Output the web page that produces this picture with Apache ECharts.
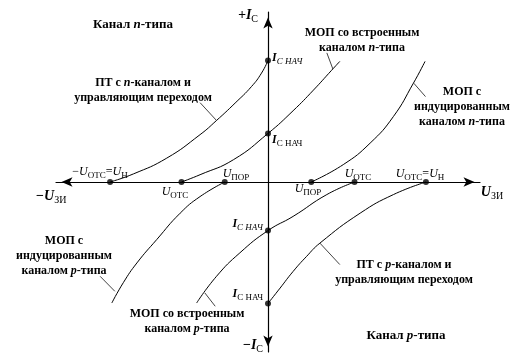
<!DOCTYPE html>
<html><head><meta charset="utf-8">
<script src="https://cdn.jsdelivr.net/npm/echarts@6/dist/echarts.min.js"></script>
<style>html,body{margin:0;padding:0;background:#fff}#c{width:529px;height:364px}</style>
</head><body><div id="c"></div>
<script>
// Curves (x: U_ЗИ, y: I_C, arbitrary units)
const jfetN     = [[-3.65,0],[-3.11,0.20],[-2.34,0.59],[-1.57,1.17],[-1.19,1.52],[-0.76,1.95],[-0.38,2.36],[-0.15,2.69],[0,3.0]];
const mosBuiltN = [[-2,0],[-1.57,0.18],[-0.80,0.55],[0,1.2],[0.58,1.76],[1.05,2.27],[1.47,2.76],[1.66,2.98]];
const mosIndN   = [[1,0],[1.74,0.43],[2.36,0.96],[2.90,1.62],[3.36,2.44],[3.63,2.98]];
const mosIndP   = [[-1,0],[-1.57,-0.36],[-2.03,-0.77],[-2.57,-1.42],[-3.03,-2.0],[-3.34,-2.48],[-3.61,-2.99]];
const mosBuiltP = [[2,0],[1.36,-0.31],[0.58,-0.85],[0,-1.2],[-0.65,-1.75],[-1.19,-2.33],[-1.65,-2.99]];
const jfetP     = [[3.65,0],[2.90,-0.31],[2.13,-0.77],[1.20,-1.51],[0.89,-1.84],[0.58,-2.21],[0.28,-2.62],[0,-3.0]];
const xPoints = [-3.65,-2,-1,1,2,3.65];
const yPoints = [3,1.2,-1.2,-3];
const leaders = [
  [[-1.57,1.96],[-1.19,1.52]],
  [[1.36,3.19],[1.50,2.79]],
  [[3.37,2.44],[3.64,2.11]],
  [[-3.88,-2.33],[-3.54,-2.70]],
  [[-1.46,-2.74],[-1.22,-3.07]],
  [[1.20,-1.51],[1.66,-2.04]]
];

const F = '"Liberation Serif", "Times New Roman", serif';
function st(size, weight, style, lh) {
  return {fontFamily: F, fontSize: size, fontWeight: weight, fontStyle: style, fill: '#000', color: '#000', lineHeight: lh};
}
const rich = {
  t: st(12,'bold','normal',15),
  ti: st(12,'bold','italic',15),
  h: st(13,'bold','normal',15),
  hi: st(13,'bold','italic',15)
};
function block(x, y, text) {
  return {type:'text', z:100, style:{text:text, x:x, y:y, rich:rich, align:'center', verticalAlign:'middle', textAlign:'center', textVerticalAlign:'middle', fill:'#000', fontFamily:F}};
}
// inline pieces with subscripts
const P = {
  u:  {size:12, weight:'normal', style:'italic', dy:0},
  ub: {size:12, weight:'bold', style:'italic', dy:0},
  m:  {size:12, weight:'normal', style:'normal', dy:0},
  s:  {size:9, weight:'normal', style:'normal', dy:3.5},
  si: {size:9, weight:'normal', style:'italic', dy:3.5},
  ab: {size:14, weight:'bold', style:'italic', dy:0},
  as: {size:10, weight:'normal', style:'normal', dy:4}
};
const ctx = document.createElement('canvas').getContext('2d');
function fontOf(p) { return p.style + ' ' + p.weight + ' ' + p.size + 'px ' + F; }
function sub(x, y, parts, align) {
  const widths = parts.map(pt => { ctx.font = fontOf(P[pt[0]]); return ctx.measureText(pt[1]).width; });
  const total = widths.reduce((a,b) => a+b, 0);
  let cx = align === 'left' ? x : align === 'right' ? x - total : x - total/2;
  const children = [];
  parts.forEach((pt, i) => {
    const p = P[pt[0]];
    children.push({type:'text', z:100, style:{text:pt[1], x:cx, y:y + p.dy, fontFamily:F, fontSize:p.size, fontWeight:p.weight, fontStyle:p.style, fill:'#000', align:'left', verticalAlign:'middle', textAlign:'left', textVerticalAlign:'middle'}});
    cx += widths[i];
  });
  return {type:'group', children: children};
}
const texts = [
  block(133,25,'{h|Канал }{hi|n}{h|-типа}'),
  block(143,90,'{t|ПТ с }{ti|n}{t|-каналом и}\n{t|управляющим переходом}'),
  block(362,40,'{t|МОП со встроенным}\n{t|каналом }{ti|n}{t|-типа}'),
  block(462,107,'{t|МОП с}\n{t|индуцированным}\n{t|каналом }{ti|n}{t|-типа}'),
  block(64,256,'{t|МОП с}\n{t|индуцированным}\n{t|каналом }{ti|p}{t|-типа}'),
  block(187,321,'{t|МОП со встроенным}\n{t|каналом }{ti|p}{t|-типа}'),
  block(404,272,'{t|ПТ с }{ti|p}{t|-каналом и}\n{t|управляющим переходом}'),
  block(406,336,'{h|Канал }{hi|p}{h|-типа}'),
  sub(258,15,[['ab','+I'],['as','C']],'right'),
  sub(263,345,[['ab','−I'],['as','C']],'right'),
  sub(51,196,[['ab','−U'],['as','ЗИ']],'center'),
  sub(492,192,[['ab','U'],['as','ЗИ']],'center'),
  sub(100,172,[['m','−'],['u','U'],['s','ОТС'],['m','='],['u','U'],['s','Н']],'center'),
  sub(175,192,[['u','U'],['s','ОТС']],'center'),
  sub(236,174,[['u','U'],['s','ПОР']],'center'),
  sub(308,189,[['u','U'],['s','ПОР']],'center'),
  sub(358,174,[['u','U'],['s','ОТС']],'center'),
  sub(420,174,[['u','U'],['s','ОТС'],['m','='],['u','U'],['s','Н']],'center'),
  sub(272,58,[['ub','I'],['si','С НАЧ']],'left'),
  sub(272,140,[['ub','I'],['s','С НАЧ']],'left'),
  sub(263,224,[['ub','I'],['si','С НАЧ']],'right'),
  sub(263,294,[['ub','I'],['s','С НАЧ']],'right')
];

function curve(d) {
  return {type:'line', data:d, smooth:0.5, symbol:'none', silent:true, lineStyle:{color:'#000', width:1}, z:3};
}
const series = [jfetN, mosBuiltN, mosIndN, mosIndP, mosBuiltP, jfetP].map(curve);
leaders.forEach(l => series.push({type:'line', data:l, symbol:'none', silent:true, lineStyle:{color:'#444', width:1}, z:2}));
series.push({type:'scatter', data: xPoints.map(v => [v,0]).concat(yPoints.map(v => [0,v])), symbol:'circle', symbolSize:6, itemStyle:{color:'#000'}, z:5, silent:true});

const axisCommon = {
  type:'value', splitLine:{show:false}, axisTick:{show:false}, axisLabel:{show:false},
  axisLine:{show:true, onZero:true, symbol:['arrow','arrow'], symbolSize:[7,11], symbolOffset:[5.5,-5.5], lineStyle:{color:'#000', width:1.2}}
};
const chart = echarts.init(document.getElementById('c'), null, {renderer:'canvas'});
chart.setOption({
  animation:false,
  backgroundColor:'#fff',
  grid:{left:56, right:49, top:12, bottom:12, containLabel:false},
  xAxis: Object.assign({min:-4.9, max:4.9}, axisCommon),
  yAxis: Object.assign({min:-4.2, max:4.2}, axisCommon),
  series: series,
  graphic: texts
});
</script></body></html>
